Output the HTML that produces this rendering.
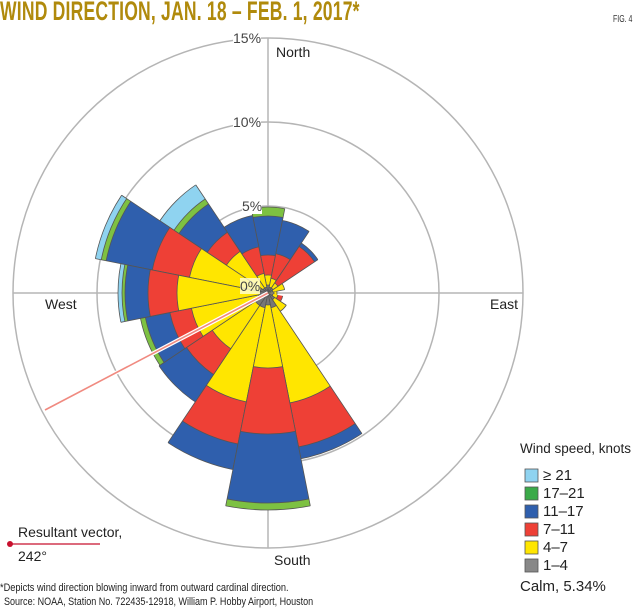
<!DOCTYPE html>
<html><head><meta charset="utf-8"><style>
body{margin:0;background:#fff;width:640px;height:609px;overflow:hidden;position:relative;font-family:"Liberation Sans",sans-serif}
.t{position:absolute;white-space:nowrap}
</style></head><body>
<svg width="640" height="609" style="position:absolute;left:0;top:0">
<defs><clipPath id="w" clipPathUnits="userSpaceOnUse"><path d="M0,0 L-58.5,-294.2 L58.5,-294.2 Z"/></clipPath></defs>
<g fill="none" stroke="#b5b5b5" stroke-width="1.5">
<circle cx="268" cy="293" r="87"/><circle cx="268" cy="293" r="171"/><circle cx="268" cy="293" r="255"/>
<line x1="13" y1="293" x2="523" y2="293"/><line x1="268" y1="38" x2="268" y2="548"/>
</g>
<g id="bars" stroke="#555" stroke-width="0.8">
<g transform="translate(268,293) rotate(0)"><g clip-path="url(#w)"><circle r="86" fill="#7dc142"/><circle r="77" fill="#2f5fad"/><circle r="38" fill="#ee4036"/><circle r="18" fill="#ffe600"/><circle r="8" fill="#777"/></g><path d="M0,0 L-16.8,-84.3 M0,0 L16.8,-84.3" /></g>
<g transform="translate(268,293) rotate(22.5)"><g clip-path="url(#w)"><circle r="74" fill="#2f5fad"/><circle r="40" fill="#ee4036"/><circle r="15" fill="#ffe600"/><circle r="6" fill="#777"/></g><path d="M0,0 L-14.4,-72.6 M0,0 L14.4,-72.6"/></g>
<g transform="translate(268,293) rotate(45)"><g clip-path="url(#w)"><circle r="60" fill="#2f5fad"/><circle r="56" fill="#ee4036"/><circle r="12" fill="#ffe600"/><circle r="6" fill="#777"/></g><path d="M0,0 L-11.7,-58.8 M0,0 L11.7,-58.8"/></g>
<g transform="translate(268,293) rotate(67.5)"><g clip-path="url(#w)"><circle r="17" fill="#ffe600"/><circle r="5" fill="#777"/></g><path d="M0,0 L-3.3,-16.7 M0,0 L3.3,-16.7"/></g>
<g transform="translate(268,293) rotate(90)"><g clip-path="url(#w)"><circle r="9" fill="#ffe600"/><circle r="6" fill="#777"/></g></g>
<g transform="translate(268,293) rotate(112.5)"><g clip-path="url(#w)"><circle r="15" fill="#ee4036"/><circle r="10" fill="#ffe600"/><circle r="5" fill="#777"/></g></g>
<g transform="translate(268,293) rotate(135)"><g clip-path="url(#w)"><circle r="22" fill="#ffe600"/><circle r="8" fill="#777"/></g><path d="M0,0 L-4.3,-21.6 M0,0 L4.3,-21.6"/></g>
<g transform="translate(268,293) rotate(157.5)"><g clip-path="url(#w)"><circle r="169" fill="#2f5fad"/><circle r="157" fill="#ee4036"/><circle r="112" fill="#ffe600"/><circle r="15" fill="#777"/></g><path d="M0,0 L-33,-165.8 M0,0 L33,-165.8"/></g>
<g transform="translate(268,293) rotate(202.5)"><g clip-path="url(#w)"><circle r="180" fill="#2f5fad"/><circle r="154" fill="#ee4036"/><circle r="111" fill="#ffe600"/><circle r="15" fill="#777"/></g><path d="M0,0 L-35.1,-176.5 M0,0 L35.1,-176.5"/></g>
<g transform="translate(268,293) rotate(180)"><g clip-path="url(#w)"><circle r="217" fill="#7dc142"/><circle r="210" fill="#2f5fad"/><circle r="141" fill="#ee4036"/><circle r="75" fill="#ffe600"/><circle r="12" fill="#777"/></g><path d="M0,0 L-42.3,-212.8 M0,0 L42.3,-212.8"/></g>
<g transform="translate(268,293) rotate(225)"><g clip-path="url(#w)"><circle r="131" fill="#2f5fad"/><circle r="98" fill="#ee4036"/><circle r="67" fill="#ffe600"/><circle r="15" fill="#777"/></g><path d="M0,0 L-25.6,-128.5 M0,0 L25.6,-128.5"/></g>
<g transform="translate(268,293) rotate(247.5)"><g clip-path="url(#w)"><circle r="130" fill="#7dc142"/><circle r="125" fill="#2f5fad"/><circle r="100" fill="#ee4036"/><circle r="78" fill="#ffe600"/><circle r="10" fill="#777"/></g><path d="M0,0 L-25.4,-127.5 M0,0 L25.4,-127.5"/></g>
<g transform="translate(268,293) rotate(315)"><g clip-path="url(#w)"><circle r="130" fill="#8fd3f0"/><circle r="113" fill="#7dc142"/><circle r="107" fill="#2f5fad"/><circle r="73" fill="#ee4036"/><circle r="50" fill="#ffe600"/><circle r="6" fill="#777"/></g><path d="M0,0 L-25.4,-127.5 M0,0 L25.4,-127.5"/></g>
<g transform="translate(268,293) rotate(337.5)"><g clip-path="url(#w)"><circle r="79" fill="#2f5fad"/><circle r="47" fill="#ee4036"/><circle r="20" fill="#ffe600"/><circle r="6" fill="#777"/></g><path d="M0,0 L-15.4,-77.5 M0,0 L15.4,-77.5"/></g>
<g transform="translate(268,293) rotate(292.5)"><g clip-path="url(#w)"><circle r="176" fill="#8fd3f0"/><circle r="170" fill="#7dc142"/><circle r="165" fill="#2f5fad"/><circle r="118" fill="#ee4036"/><circle r="80" fill="#ffe600"/><circle r="8" fill="#777"/></g><path d="M0,0 L-34.3,-172.6 M0,0 L34.3,-172.6"/></g>
<g transform="translate(268,293) rotate(270)"><g clip-path="url(#w)"><circle r="150" fill="#8fd3f0"/><circle r="146" fill="#7dc142"/><circle r="143" fill="#2f5fad"/><circle r="120" fill="#ee4036"/><circle r="91" fill="#ffe600"/><circle r="8" fill="#777"/></g><path d="M0,0 L-29.3,-147.1 M0,0 L29.3,-147.1"/></g>
</g>
<line x1="268" y1="293" x2="45" y2="410" stroke="#fff" stroke-width="4"/>
<line x1="268" y1="293" x2="45" y2="410" stroke="#f08a80" stroke-width="1.6"/>
<line x1="10" y1="544" x2="100" y2="544" stroke="#c8102e" stroke-width="1.2"/>
<circle cx="10" cy="544" r="3" fill="#c8102e"/>
<g stroke="#555" stroke-width="0.8">
<rect x="525" y="469" width="13" height="13" fill="#8fd3f0"/>
<rect x="525" y="487" width="13" height="13" fill="#3aaa48"/>
<rect x="525" y="505" width="13" height="13" fill="#2f5fad"/>
<rect x="525" y="523" width="13" height="13" fill="#ee4036"/>
<rect x="525" y="541" width="13" height="13" fill="#ffe600"/>
<rect x="525" y="559" width="13" height="13" fill="#888"/>
</g>
</svg>
<div class="t" style="left:0;top:-4px;font-size:27px;font-weight:bold;color:#b08a0c;transform:scaleX(0.65);transform-origin:0 0;letter-spacing:0.3px">WIND DIRECTION, JAN. 18 – FEB. 1, 2017*</div>
<div class="t" style="left:613px;top:14px;font-size:10px;color:#333;transform:scaleX(0.7);transform-origin:0 0">FIG. 4</div>
<div class="t" style="left:233px;top:30px;font-size:14px;color:#444;background:#fff">15%</div>
<div class="t" style="left:233px;top:114px;font-size:14px;color:#444;background:#fff">10%</div>
<div class="t" style="left:242px;top:198px;font-size:14px;color:#444;background:#fff">5%</div>
<div class="t" style="left:240px;top:278px;font-size:14px;color:#444;background:rgba(255,255,220,0.8)">0%</div>
<div class="t" style="left:276px;top:44px;font-size:14px;color:#222">North</div>
<div class="t" style="left:45px;top:296px;font-size:14px;color:#222">West</div>
<div class="t" style="left:490px;top:296px;font-size:14px;color:#222">East</div>
<div class="t" style="left:274px;top:552px;font-size:14px;color:#222">South</div>
<div class="t" style="left:18px;top:524px;font-size:14px;color:#222">Resultant vector,</div>
<div class="t" style="left:18px;top:548px;font-size:14px;color:#222">242°</div>
<div class="t" style="left:520px;top:441px;font-size:13.5px;color:#222">Wind speed, knots</div>
<div class="t" style="left:543px;top:467px;font-size:15px;color:#222;line-height:18px">≥ 21<br>17–21<br>11–17<br>7–11<br>4–7<br>1–4</div>
<div class="t" style="left:520px;top:578px;font-size:15px;color:#222">Calm, 5.34%</div>
<div class="t" style="left:0;top:582px;font-size:11px;color:#222;transform:scaleX(0.84);transform-origin:0 0">*Depicts wind direction blowing inward from outward cardinal direction.</div>
<div class="t" style="left:4px;top:596px;font-size:11px;color:#222;transform:scaleX(0.82);transform-origin:0 0">Source: NOAA, Station No. 722435-12918, William P. Hobby Airport, Houston</div>
</body></html>
